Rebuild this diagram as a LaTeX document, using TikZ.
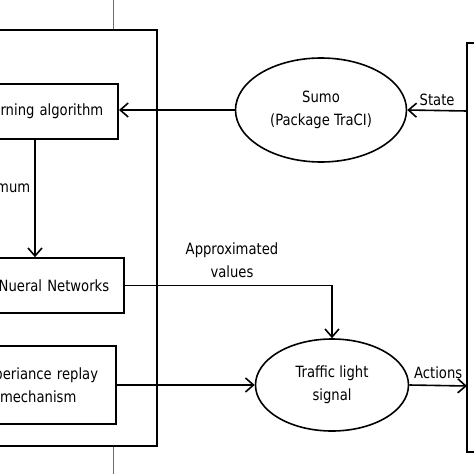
\documentclass[tikz,border=0pt]{standalone}
\usepackage{fontspec}
\setmainfont{DejaVu Sans}[FakeStretch=0.85]
\usetikzlibrary{arrows.meta,shapes.geometric}
\definecolor{rulerblue}{RGB}{100,100,190}
\begin{document}
\begin{tikzpicture}[x=1pt,y=-1pt,line width=1.6pt,
  >={Straight Barb[length=8pt,width=14pt]},
  every node/.style={font=\fontsize{15.5}{23}\selectfont},
  block/.style={rectangle,draw,inner ysep=0pt},
  oval/.style={ellipse,draw,inner sep=0pt,align=center}]
\useasboundingbox (0,0) rectangle (474,474);
\clip (0,0) rectangle (474,474);

% frames
\draw[rulerblue,line width=1pt] (113,0) -- (113,30);
\draw[rulerblue,line width=1pt] (113,446) -- (113,474);
\draw (-20,30) rectangle (157,446);
\draw (490,43) -- (467,43) -- (467,452) -- (490,452);
\coordinate (env-state) at (467,111);
\coordinate (env-act) at (467,386);
\coordinate (down) at (35,0);

% left column
\node[block,anchor=east,minimum width=200pt,minimum height=55pt,inner xsep=15pt,
  text width=170pt,align=right] (learn) at (119,111.5) {Q-learning algorithm};
\node[block,anchor=east,minimum width=200pt,minimum height=55pt,inner xsep=15pt,
  text width=170pt,align=right] (nueral) at (125,285.5) {Nueral Networks};
\node[block,anchor=east,minimum width=156pt,minimum height=78pt,inner xsep=0pt,
  text width=156pt,align=center] (replay) at (117,385) {Experiance replay\\mechanism};
\node[anchor=east,inner sep=0pt] (optimum) at (31,188) {Optimum};

% right column
\node[oval,minimum width=171pt,minimum height=104pt] (sumo) at (321,110) {Sumo\\(Package TraCI)};
\node[oval,minimum width=153pt,minimum height=92pt] (traffic) at (332,385) {Traffic light\\signal};

% connectors
\draw[->] (env-state) -- (sumo.east) node[midway,above=1pt] (state) {State};
\draw[->] (sumo.west) -- (sumo.west -| learn.east);
\draw[->] (learn.south -| down) -- (nueral.north -| down);
\draw[->] (nueral.east) -| (traffic.north);
\draw[->] (replay.east) -- (traffic.west);
\draw[->] (traffic.east) -- (env-act) node[midway,above=3pt] (actions) {Actions};
\node[align=center,inner sep=0pt] (approx) at (232,260) {Approximated\\values};
\end{tikzpicture}
\end{document}
